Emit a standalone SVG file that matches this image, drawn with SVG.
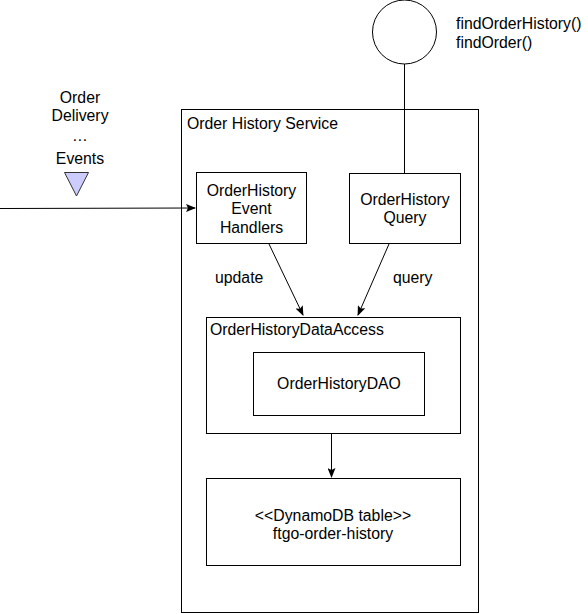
<svg xmlns="http://www.w3.org/2000/svg" width="588" height="614" viewBox="0 0 588 614">
<defs>
<marker id="arr" markerWidth="10" markerHeight="8" refX="9" refY="4" orient="auto" markerUnits="userSpaceOnUse">
<path d="M0,0 L10,4 L0,8 L2,4 Z" fill="#000"/>
</marker>
<style>
.box{fill:#fff;stroke:#000;stroke-width:1}
.t{font-family:"Liberation Sans",Arial,sans-serif;font-size:15.8px;fill:#000}
.c{text-anchor:middle}
.ln{stroke:#000;stroke-width:1;fill:none}
</style>
</defs>
<rect width="588" height="614" fill="#fff"/>
<g id="service">
<rect class="box" x="181.5" y="109.5" width="297" height="503"/>
<text class="t" x="187" y="129">Order History Service</text>
</g>
<g id="connectors">
<line class="ln" x1="404.5" y1="64" x2="404.5" y2="173"/>
<line class="ln" x1="0" y1="208.5" x2="195" y2="208" marker-end="url(#arr)"/>
<line class="ln" x1="269" y1="244" x2="303" y2="315" marker-end="url(#arr)"/>
<line class="ln" x1="389" y1="244" x2="358" y2="315" marker-end="url(#arr)"/>
<line class="ln" x1="331.5" y1="433" x2="331.5" y2="477" marker-end="url(#arr)"/>
<text class="t" x="215" y="283">update</text>
<text class="t" x="393" y="283">query</text>
</g>
<g id="interface">
<circle class="box" cx="404.5" cy="32" r="32"/>
<text class="t" x="456" y="29">findOrderHistory()</text>
<text class="t" x="456" y="48">findOrder()</text>
</g>
<g id="events">
<text class="t c" x="80" y="103">Order</text>
<text class="t c" x="80" y="121">Delivery</text>
<text class="t c" x="80" y="141">…</text>
<text class="t c" x="80" y="164">Events</text>
<polygon points="64.5,172.5 88.5,172.5 76.5,196" fill="#ccccff" stroke="#333" stroke-width="1"/>
</g>
<g id="eventHandlers">
<rect class="box" x="196.5" y="172.5" width="110" height="71"/>
<text class="t c" x="251.5" y="196">OrderHistory</text>
<text class="t c" x="251.5" y="214">Event</text>
<text class="t c" x="251.5" y="233">Handlers</text>
</g>
<g id="query">
<rect class="box" x="349.5" y="173.5" width="111" height="70"/>
<text class="t c" x="405" y="205">OrderHistory</text>
<text class="t c" x="405" y="223">Query</text>
</g>
<g id="dataAccess">
<rect class="box" x="206.5" y="317.5" width="254" height="116"/>
<text class="t" x="210" y="335">OrderHistoryDataAccess</text>
</g>
<g id="dao">
<rect class="box" x="253.5" y="352.5" width="171" height="63"/>
<text class="t c" x="339" y="389">OrderHistoryDAO</text>
</g>
<g id="dynamo">
<rect class="box" x="206.5" y="478.5" width="254" height="87"/>
<text class="t c" x="333" y="521">&lt;&lt;DynamoDB table&gt;&gt;</text>
<text class="t c" x="333" y="539">ftgo-order-history</text>
</g>
</svg>
